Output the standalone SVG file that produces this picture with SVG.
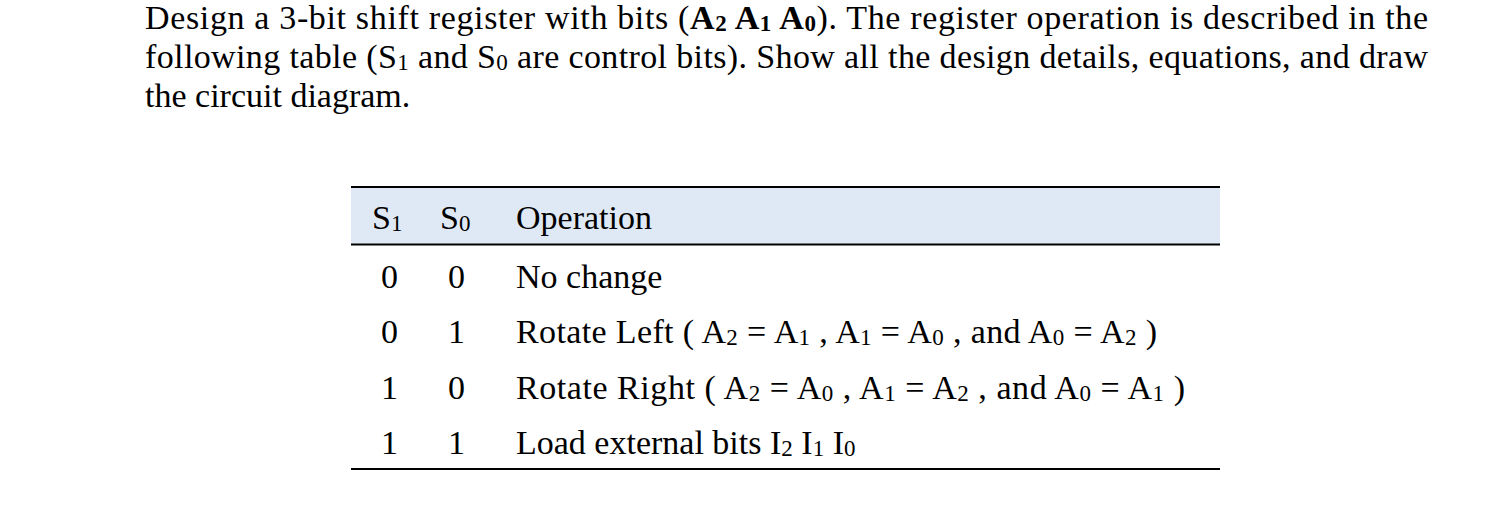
<svg xmlns="http://www.w3.org/2000/svg" width="1485" height="519" viewBox="0 0 1485 519">
<style>
text{font-family:"Liberation Serif","Times New Roman",serif;font-size:34px;fill:#000}
.s{font-size:23px}
.b{font-weight:bold}
.rule{stroke:#000;stroke-width:2}
</style>
<rect width="1485" height="519" fill="#fff"/>
<g id="question">
<text x="145" y="29" textLength="1283" lengthAdjust="spacing">Design a 3-bit shift register with bits (<tspan class="b">A</tspan><tspan class="b s" dy="2">2</tspan><tspan class="b" dy="-2"> A</tspan><tspan class="b s" dy="2">1</tspan><tspan class="b" dy="-2"> A</tspan><tspan class="b s" dy="2">0</tspan><tspan dy="-2">). The register operation is described in the</tspan></text>
<text x="145" y="68" textLength="1283" lengthAdjust="spacing">following table (S<tspan class="s" dy="2">1</tspan><tspan dy="-2"> and S</tspan><tspan class="s" dy="2">0</tspan><tspan dy="-2"> are control bits). Show all the design details, equations, and draw</tspan></text>
<text x="145" y="107">the circuit diagram.</text>
</g>
<g id="table">
<rect x="351" y="188" width="869" height="56" fill="#dfe9f5"/>
<line class="rule" x1="351" y1="187" x2="1220" y2="187" stroke-width="1.5"/>
<line class="rule" x1="351" y1="244.5" x2="1220" y2="244.5"/>
<line class="rule" x1="351" y1="469" x2="1220" y2="469"/>
<text x="372" y="229">S<tspan class="s" dy="2">1</tspan></text>
<text x="440" y="229">S<tspan class="s" dy="2">0</tspan></text>
<text x="516" y="229">Operation</text>
<text x="381" y="288">0</text><text x="448" y="288">0</text>
<text x="516" y="288">No change</text>
<text x="381" y="343">0</text><text x="448" y="343">1</text>
<text x="516" y="343" textLength="641" lengthAdjust="spacing">Rotate Left ( A<tspan class="s" dy="2">2</tspan><tspan dy="-2"> = A</tspan><tspan class="s" dy="2">1</tspan><tspan dy="-2"> , A</tspan><tspan class="s" dy="2">1</tspan><tspan dy="-2"> = A</tspan><tspan class="s" dy="2">0</tspan><tspan dy="-2">  , and A</tspan><tspan class="s" dy="2">0</tspan><tspan dy="-2"> = A</tspan><tspan class="s" dy="2">2</tspan><tspan dy="-2"> )</tspan></text>
<text x="381" y="399">1</text><text x="448" y="399">0</text>
<text x="516" y="399" textLength="669" lengthAdjust="spacing">Rotate Right ( A<tspan class="s" dy="2">2</tspan><tspan dy="-2"> = A</tspan><tspan class="s" dy="2">0</tspan><tspan dy="-2">  , A</tspan><tspan class="s" dy="2">1</tspan><tspan dy="-2"> = A</tspan><tspan class="s" dy="2">2</tspan><tspan dy="-2"> , and A</tspan><tspan class="s" dy="2">0</tspan><tspan dy="-2"> = A</tspan><tspan class="s" dy="2">1</tspan><tspan dy="-2"> )</tspan></text>
<text x="381" y="454">1</text><text x="448" y="454">1</text>
<text x="516" y="454">Load external bits I<tspan class="s" dy="2">2</tspan><tspan dy="-2"> I</tspan><tspan class="s" dy="2">1</tspan><tspan dy="-2"> I</tspan><tspan class="s" dy="2">0</tspan></text>
</g>
</svg>
